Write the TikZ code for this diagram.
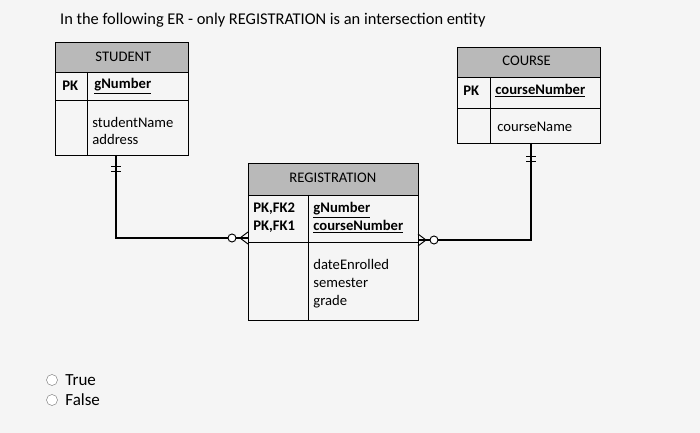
\documentclass[tikz,border=0pt]{standalone}
\usepackage{fontspec}
\setmainfont{Carlito}
\usetikzlibrary{positioning, calc}
\tikzset{
  hdr/.style = {draw, fill=gray!55, line width=0.6pt},
  box/.style = {draw, line width=0.6pt},
  txt/.style = {anchor=west, font=\fontsize{12.5}{15.3}\selectfont, inner sep=1pt, align=left},
  key/.style = {txt, font=\fontsize{12.5}{15.3}\selectfont\bfseries},
  rel/.style = {line width=1.2pt}
}
\begin{document}
\begin{tikzpicture}[x=0.03cm, y=-0.03cm]
  \useasboundingbox (0,0) rectangle (700,433);
  \fill[gray!8] (0,0) rectangle (700,433);

  %%% Title
  \node[anchor=west, font=\fontsize{14}{16}\selectfont] (title) at (56,20)
    {In the following ER - only REGISTRATION is an intersection entity};

  %%% Student
  \begin{scope}
    \draw[hdr] (55,42) rectangle (188,72);
    \draw[box] (55,72) rectangle (188,155);
    \draw[box] (55,100) -- (188,100);
    \draw[box] (87,72) -- (87,155);
    \node[txt] (st_name) at (94,57) {STUDENT};
    \node[key] (st_pk) at (61,86) {PK};
    \node[key] (st_key) at (93,86) {\underline{gNumber}};
    \node[txt] (st_attr) at (91,131) {studentName\\address};
  \end{scope}

  %%% Course
  \begin{scope}
    \draw[hdr] (457,47) rectangle (600,77);
    \draw[box] (457,77) rectangle (600,143);
    \draw[box] (457,108) -- (600,108);
    \draw[box] (490,77) -- (490,143);
    \node[txt] (co_name) at (501,61) {COURSE};
    \node[key] (co_pk) at (462,91) {PK};
    \node[key] (co_key) at (494,91) {\underline{courseNumber}};
    \node[txt] (co_attr) at (496,127) {courseName};
  \end{scope}

  %%% Registration
  \begin{scope}
    \draw[hdr] (248,163) rectangle (418,195);
    \draw[box] (248,195) rectangle (418,320);
    \draw[box] (248,242) -- (418,242);
    \draw[box] (308,195) -- (308,320);
    \node[txt] (re_name) at (288,178) {REGISTRATION};
    \node[key] (re_pk) at (252,218) {PK,FK2\\PK,FK1};
    \node[key] (re_key) at (312,218) {\underline{gNumber}\\\underline{courseNumber}};
    \node[txt] (re_attr) at (312,284) {dateEnrolled\\semester\\grade};
  \end{scope}

  %%% Relationships
  \coordinate (st_out) at (116,155);
  \coordinate (st_bend) at (116,238);
  \coordinate (re_in1) at (248,238);
  \coordinate (co_out) at (531,143);
  \coordinate (co_bend) at (531,240);
  \coordinate (re_in2) at (418,240);
  \draw[rel] (st_out) -- (st_bend) -- (re_in1);
  \draw[rel] (co_out) -- (co_bend) -- (re_in2);
  % one and only one
  \foreach \y in {166,171} \draw[line width=0.8pt] (111,\y) -- (121,\y);
  \foreach \y in {156,161} \draw[line width=0.8pt] (526,\y) -- (536,\y);
  % zero or many
  \draw[line width=0.8pt, fill=white] (232,238) circle (4);
  \draw[line width=0.8pt] (240,238) -- (248,232) (240,238) -- (248,244);
  \draw[line width=0.8pt, fill=white] (434,240) circle (4);
  \draw[line width=0.8pt] (426,240) -- (418,234) (426,240) -- (418,246);

  %%% Answers
  \draw[gray, fill=white] (52,380) circle (5.5);
  \draw[gray, fill=white] (52,400) circle (5.5);
  \node[txt, font=\fontsize{14.5}{16}\selectfont] (ans_t) at (64,380) {True};
  \node[txt, font=\fontsize{14.5}{16}\selectfont] (ans_f) at (64,400) {False};
\end{tikzpicture}
\end{document}
